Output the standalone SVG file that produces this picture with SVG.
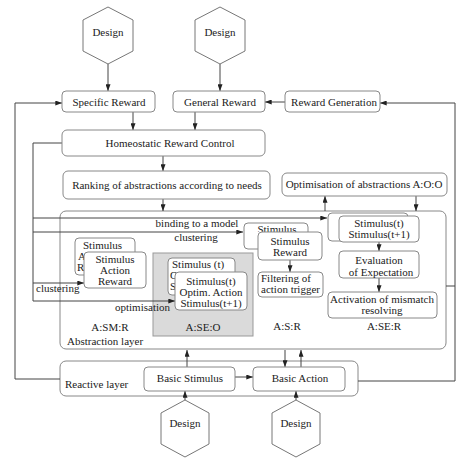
<svg xmlns="http://www.w3.org/2000/svg" width="474" height="466" viewBox="0 0 474 466">
<defs>
<marker id="ah" viewBox="0 0 8 6" refX="8" refY="3" markerWidth="7" markerHeight="5" markerUnits="userSpaceOnUse" orient="auto">
<path d="M0,0 L8,3 L0,6 z" fill="#222"/>
</marker>
<clipPath id="clipC"><rect x="244" y="223" width="64" height="9"/></clipPath>
<style>
text{font-family:"Liberation Serif","Times New Roman",serif;font-size:11px;fill:#222}
.c{text-anchor:middle}
.box{fill:#fff;stroke:#888;stroke-width:1}
.cont{fill:none;stroke:#888;stroke-width:1}
.hex{fill:#fff;stroke:#777;stroke-width:1}
.ln{fill:none;stroke:#444;stroke-width:1}
.ar{fill:none;stroke:#444;stroke-width:1;marker-end:url(#ah)}
</style>
</defs>
<rect width="474" height="466" fill="#fff"/>

<!-- containers -->
<g id="abstraction-layer">
<rect class="cont" x="60" y="211" width="386" height="138" rx="6"/>
<text x="67" y="345">Abstraction layer</text>
</g>
<g id="ase-o-area">
<rect x="153" y="253" width="100" height="83" fill="#dadada" stroke="#999"/>
<text class="c" x="203" y="331">A:SE:O</text>
</g>
<g id="reactive-layer">
<rect class="cont" x="60" y="361" width="298" height="35" rx="6"/>
<text x="65" y="388">Reactive layer</text>
</g>

<!-- connectors -->
<g id="connectors">
<line class="ar" x1="108" y1="64" x2="108" y2="91"/>
<line class="ar" x1="220" y1="64" x2="220" y2="91"/>
<line class="ar" x1="285" y1="102" x2="265" y2="102"/>
<polyline class="ar" points="60,379 15,379 15,103 62,103"/>
<polyline class="ar" points="358,381 455,381 455,103 380,103"/>
<line class="ar" x1="133" y1="112" x2="133" y2="130"/>
<line class="ar" x1="195" y1="112" x2="195" y2="130"/>
<line class="ar" x1="163" y1="156" x2="163" y2="171"/>
<line class="ar" x1="163" y1="199" x2="163" y2="211"/>
<polyline class="ln" points="62,143 33,143 33,301"/>
<line class="ar" x1="33" y1="218" x2="327" y2="218"/>
<line class="ar" x1="33" y1="232" x2="243" y2="232"/>
<line class="ar" x1="33" y1="283" x2="84" y2="283"/>
<line class="ar" x1="33" y1="301" x2="175" y2="301"/>
<line class="ar" x1="325" y1="211" x2="325" y2="196"/>
<line class="ar" x1="416" y1="196" x2="416" y2="211"/>
<line class="ln" x1="446" y1="286" x2="455" y2="286"/>
<line class="ar" x1="290" y1="260" x2="290" y2="272"/>
<line class="ar" x1="379" y1="242" x2="379" y2="251"/>
<line class="ar" x1="379" y1="278" x2="379" y2="292"/>
<line class="ar" x1="187" y1="367" x2="187" y2="350"/>
<line class="ar" x1="285" y1="350" x2="285" y2="367"/>
<line class="ar" x1="301" y1="367" x2="301" y2="350"/>
<line class="ar" x1="235" y1="377" x2="253" y2="377"/>
<line class="ar" x1="185" y1="400" x2="185" y2="391"/>
<line class="ar" x1="296" y1="400" x2="296" y2="391"/>
<text class="c" x="197" y="227">binding to a model</text>
<text class="c" x="196" y="241">clustering</text>
<text x="36" y="292">clustering</text>
<text x="115" y="311">optimisation</text>
</g>

<!-- nodes -->
<g id="design-1"><polygon class="hex" points="108,7 133,20 133,51 108,64 83,51 83,20"/><text class="c" x="108" y="36">Design</text></g>
<g id="design-2"><polygon class="hex" points="220,7 245,20 245,51 220,64 195,51 195,20"/><text class="c" x="220" y="36">Design</text></g>
<g id="design-3"><polygon class="hex" points="185,400 209,413 209,444 185,457 161,444 161,413"/><text class="c" x="185" y="427">Design</text></g>
<g id="design-4"><polygon class="hex" points="296,400 320,413 320,444 296,457 272,444 272,413"/><text class="c" x="296" y="427">Design</text></g>

<g id="specific-reward"><rect class="box" x="62" y="91" width="93" height="21" rx="4"/><text class="c" x="109" y="106">Specific Reward</text></g>
<g id="general-reward"><rect class="box" x="173" y="91" width="92" height="21" rx="4"/><text class="c" x="220" y="106">General Reward</text></g>
<g id="reward-generation"><rect class="box" x="285" y="91" width="95" height="21" rx="4"/><text class="c" x="334" y="106">Reward Generation</text></g>
<g id="homeostatic"><rect class="box" x="62" y="130" width="203" height="26" rx="5"/><text class="c" x="170" y="147">Homeostatic Reward Control</text></g>
<g id="ranking"><rect class="box" x="63" y="171" width="207" height="28" rx="5"/><text class="c" x="167" y="189">Ranking of abstractions according to needs</text></g>
<g id="optimisation-aoo"><rect class="box" x="282" y="173" width="165" height="23" rx="5"/><text class="c" x="364" y="188">Optimisation of abstractions A:O:O</text></g>

<g id="asmr-stack">
<rect class="box" x="75" y="238" width="60" height="37" rx="4"/>
<text x="83" y="249">Stimulus</text><text x="78" y="260">A</text><text x="77" y="271">R</text>
<rect class="box" x="84" y="252" width="62" height="36" rx="4"/>
<text class="c" x="115" y="263">Stimulus</text><text class="c" x="115" y="274">Action</text><text class="c" x="115" y="285">Reward</text>
</g>
<text class="c" x="110" y="331">A:SM:R</text>

<g id="aseo-stack">
<rect class="box" x="168" y="258" width="67" height="37" rx="4"/>
<text x="172" y="268">Stimulus (t)</text><text x="170" y="279">O</text><text x="170" y="290">S</text>
<rect class="box" x="175" y="272" width="72" height="38" rx="4"/>
<text class="c" x="211" y="285">Stimulus(t)</text><text class="c" x="211" y="296">Optim. Action</text><text class="c" x="211" y="307">Stimulus(t+1)</text>
</g>

<g id="asr-stack">
<rect class="box" x="244" y="223" width="64" height="26" rx="4"/>
<g clip-path="url(#clipC)"><text class="c" x="277" y="233">Stimulus</text></g>
<rect class="box" x="258" y="232" width="64" height="28" rx="4"/>
<text class="c" x="290" y="245">Stimulus</text><text class="c" x="290" y="256">Reward</text>
</g>
<g id="filtering"><rect class="box" x="258" y="272" width="65" height="25" rx="4"/><text x="261" y="282">Filtering of</text><text x="261" y="293">action trigger</text></g>
<text class="c" x="287" y="330">A:S:R</text>

<g id="aser-stack">
<rect class="box" x="328" y="213" width="80" height="28" rx="4"/>
<rect class="box" x="339" y="216" width="80" height="26" rx="4"/>
<text class="c" x="379" y="227">Stimulus(t)</text><text class="c" x="379" y="238">Stimulus(t+1)</text>
</g>
<g id="evaluation"><rect class="box" x="339" y="251" width="80" height="27" rx="4"/><text class="c" x="379" y="264">Evaluation</text><text class="c" x="381" y="276">of Expectation</text></g>
<g id="activation"><rect class="box" x="328" y="292" width="109" height="26" rx="4"/><text class="c" x="382" y="303">Activation of mismatch</text><text class="c" x="382" y="314">resolving</text></g>
<text class="c" x="384" y="330">A:SE:R</text>

<g id="basic-stimulus"><rect class="box" x="144" y="367" width="91" height="24" rx="4"/><text class="c" x="190" y="382">Basic Stimulus</text></g>
<g id="basic-action"><rect class="box" x="253" y="367" width="92" height="24" rx="4"/><text class="c" x="300" y="382">Basic Action</text></g>
</svg>
